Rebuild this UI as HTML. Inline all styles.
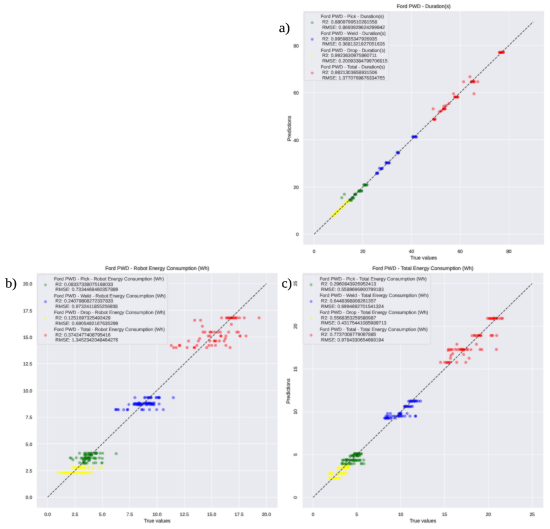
<!DOCTYPE html>
<html lang="en"><head><meta charset="utf-8"><title>Ford PWD predictions vs true values</title>
<style>
html,body{margin:0;padding:0;background:#fff;}
body{width:550px;height:529px;overflow:hidden;}
.wrap{position:relative;width:550px;height:529px;overflow:hidden;}
.fig{position:absolute;left:0;top:0;width:1100px;height:1058px;transform:scale(0.5);transform-origin:0 0;will-change:transform;}
svg{display:block;text-rendering:geometricPrecision;font-family:"Liberation Sans",Arial,sans-serif;fill:#262626;}
text{stroke:#262626;stroke-width:0.11px;stroke-linejoin:round;}
</style></head><body>
<div class="wrap"><div class="fig"><svg width="1100" height="1058" viewBox="0 0 550 529">
<defs><filter id="soft" x="0" y="0" width="550" height="529" filterUnits="userSpaceOnUse"><feGaussianBlur in="SourceGraphic" stdDeviation="0.42" result="b"/><feComposite in="SourceGraphic" in2="b" operator="arithmetic" k1="0" k2="0.5" k3="0.5" k4="0"/></filter></defs>
<rect width="550" height="529" fill="#fff"/>
<g filter="url(#soft)">
<rect x="303.3" y="11.1" width="240.8" height="233.5" fill="#e9e9f0"/>
<path d="M314.10 11.1V244.6M362.79 11.1V244.6M411.48 11.1V244.6M460.17 11.1V244.6M508.86 11.1V244.6M303.3 234.20H544.1M303.3 187.00H544.1M303.3 139.80H544.1M303.3 92.60H544.1M303.3 45.40H544.1" stroke="#fff" stroke-width="0.55" fill="none" opacity="0.8"/>
<text x="314.1" y="252.9" font-size="4.7" text-anchor="middle">0</text>
<text x="362.8" y="252.9" font-size="4.7" text-anchor="middle">20</text>
<text x="411.5" y="252.9" font-size="4.7" text-anchor="middle">40</text>
<text x="460.2" y="252.9" font-size="4.7" text-anchor="middle">60</text>
<text x="508.9" y="252.9" font-size="4.7" text-anchor="middle">80</text>
<text x="298.7" y="236.2" font-size="4.7" text-anchor="end">0</text>
<text x="298.7" y="189.0" font-size="4.7" text-anchor="end">20</text>
<text x="298.7" y="141.8" font-size="4.7" text-anchor="end">40</text>
<text x="298.7" y="94.6" font-size="4.7" text-anchor="end">60</text>
<text x="298.7" y="47.4" font-size="4.7" text-anchor="end">80</text>
<text x="423.7" y="259.3" font-size="5.13" text-anchor="middle">True values</text>
<text x="423.7" y="8.0" font-size="5.13" text-anchor="middle">Ford PWD - Duration(s)</text>
<text transform="translate(291.1 128.4) rotate(-90)" font-size="5.13" text-anchor="middle">Predictions</text>
<g fill="#ffff00" fill-opacity="0.47"><circle cx="347.5" cy="201.4" r="1.5"/><circle cx="348.0" cy="201.3" r="1.5"/><circle cx="347.9" cy="201.5" r="1.5"/><circle cx="347.1" cy="201.6" r="1.5"/><circle cx="347.1" cy="201.6" r="1.5"/><circle cx="347.1" cy="201.4" r="1.5"/><circle cx="347.7" cy="201.8" r="1.5"/><circle cx="347.2" cy="201.4" r="1.5"/><circle cx="346.5" cy="203.1" r="1.5"/><circle cx="346.4" cy="202.7" r="1.5"/><circle cx="347.1" cy="202.5" r="1.5"/><circle cx="346.9" cy="202.7" r="1.5"/><circle cx="345.7" cy="202.6" r="1.5"/><circle cx="342.7" cy="206.4" r="1.5"/><circle cx="342.5" cy="206.2" r="1.5"/><circle cx="343.2" cy="206.1" r="1.5"/><circle cx="343.1" cy="205.9" r="1.5"/><circle cx="342.3" cy="206.0" r="1.5"/><circle cx="343.3" cy="206.2" r="1.5"/><circle cx="341.0" cy="207.6" r="1.5"/><circle cx="341.2" cy="207.4" r="1.5"/><circle cx="341.8" cy="207.6" r="1.5"/><circle cx="340.9" cy="207.5" r="1.5"/><circle cx="341.3" cy="207.7" r="1.5"/><circle cx="341.7" cy="207.4" r="1.5"/><circle cx="342.1" cy="207.3" r="1.5"/><circle cx="341.2" cy="207.7" r="1.5"/><circle cx="337.8" cy="210.5" r="1.5"/><circle cx="337.7" cy="210.6" r="1.5"/><circle cx="338.8" cy="210.5" r="1.5"/><circle cx="339.0" cy="210.4" r="1.5"/><circle cx="338.7" cy="210.6" r="1.5"/><circle cx="338.5" cy="210.5" r="1.5"/><circle cx="337.3" cy="212.3" r="1.5"/><circle cx="336.8" cy="212.1" r="1.5"/><circle cx="336.1" cy="212.1" r="1.5"/><circle cx="337.0" cy="212.3" r="1.5"/><circle cx="337.3" cy="211.9" r="1.5"/><circle cx="336.6" cy="212.1" r="1.5"/><circle cx="336.0" cy="212.0" r="1.5"/><circle cx="336.3" cy="211.8" r="1.5"/><circle cx="334.1" cy="214.4" r="1.5"/><circle cx="334.2" cy="214.0" r="1.5"/><circle cx="334.6" cy="214.4" r="1.5"/><circle cx="334.1" cy="214.2" r="1.5"/><circle cx="334.9" cy="214.4" r="1.5"/><circle cx="335.3" cy="214.4" r="1.5"/><circle cx="332.8" cy="215.5" r="1.5"/><circle cx="333.0" cy="215.8" r="1.5"/><circle cx="333.9" cy="215.4" r="1.5"/><circle cx="332.7" cy="215.4" r="1.5"/><circle cx="332.8" cy="215.6" r="1.5"/><circle cx="333.3" cy="215.5" r="1.5"/><circle cx="332.4" cy="215.6" r="1.5"/><circle cx="333.0" cy="215.6" r="1.5"/><circle cx="332.9" cy="216.3" r="1.5"/><circle cx="332.2" cy="216.3" r="1.5"/><circle cx="332.5" cy="215.9" r="1.5"/></g>
<g fill="#008000" fill-opacity="0.47"><circle cx="351.3" cy="200.3" r="1.5"/><circle cx="351.3" cy="200.3" r="1.5"/><circle cx="350.4" cy="200.0" r="1.5"/><circle cx="349.9" cy="200.2" r="1.5"/><circle cx="349.8" cy="199.8" r="1.5"/><circle cx="350.1" cy="199.9" r="1.5"/><circle cx="352.7" cy="197.7" r="1.5"/><circle cx="352.1" cy="197.8" r="1.5"/><circle cx="352.3" cy="197.9" r="1.5"/><circle cx="352.1" cy="198.2" r="1.5"/><circle cx="353.2" cy="197.8" r="1.5"/><circle cx="352.6" cy="197.9" r="1.5"/><circle cx="352.8" cy="197.8" r="1.5"/><circle cx="353.6" cy="198.3" r="1.5"/><circle cx="355.3" cy="194.4" r="1.5"/><circle cx="354.7" cy="194.2" r="1.5"/><circle cx="355.1" cy="194.3" r="1.5"/><circle cx="356.0" cy="194.2" r="1.5"/><circle cx="354.5" cy="194.7" r="1.5"/><circle cx="355.5" cy="194.2" r="1.5"/><circle cx="355.5" cy="194.1" r="1.5"/><circle cx="355.5" cy="194.7" r="1.5"/><circle cx="360.0" cy="191.1" r="1.5"/><circle cx="358.9" cy="190.9" r="1.5"/><circle cx="358.7" cy="191.2" r="1.5"/><circle cx="359.4" cy="191.2" r="1.5"/><circle cx="359.0" cy="190.8" r="1.5"/><circle cx="359.9" cy="191.3" r="1.5"/><circle cx="359.9" cy="191.2" r="1.5"/><circle cx="359.9" cy="191.1" r="1.5"/><circle cx="361.5" cy="191.0" r="1.5"/><circle cx="361.7" cy="190.7" r="1.5"/><circle cx="361.2" cy="190.9" r="1.5"/><circle cx="361.6" cy="191.1" r="1.5"/><circle cx="365.2" cy="184.9" r="1.5"/><circle cx="365.2" cy="185.2" r="1.5"/><circle cx="365.2" cy="184.8" r="1.5"/><circle cx="363.9" cy="184.7" r="1.5"/><circle cx="363.9" cy="184.7" r="1.5"/><circle cx="364.6" cy="185.1" r="1.5"/><circle cx="365.0" cy="184.9" r="1.5"/><circle cx="364.7" cy="185.1" r="1.5"/><circle cx="365.5" cy="185.0" r="1.5"/><circle cx="366.9" cy="185.1" r="1.5"/><circle cx="366.7" cy="184.9" r="1.5"/><circle cx="365.6" cy="185.1" r="1.5"/><circle cx="365.9" cy="185.1" r="1.5"/><circle cx="367.0" cy="184.8" r="1.5"/><circle cx="341.8" cy="197.8" r="1.5"/><circle cx="344.4" cy="194.3" r="1.5"/></g>
<g fill="#0000ff" fill-opacity="0.47"><circle cx="377.0" cy="173.4" r="1.5"/><circle cx="377.4" cy="173.0" r="1.5"/><circle cx="376.7" cy="173.0" r="1.5"/><circle cx="377.6" cy="173.4" r="1.5"/><circle cx="376.7" cy="173.4" r="1.5"/><circle cx="377.7" cy="173.3" r="1.5"/><circle cx="376.9" cy="173.2" r="1.5"/><circle cx="376.7" cy="173.0" r="1.5"/><circle cx="382.2" cy="168.6" r="1.5"/><circle cx="381.6" cy="168.7" r="1.5"/><circle cx="381.5" cy="168.7" r="1.5"/><circle cx="382.0" cy="168.4" r="1.5"/><circle cx="381.3" cy="168.4" r="1.5"/><circle cx="381.3" cy="168.5" r="1.5"/><circle cx="381.3" cy="168.5" r="1.5"/><circle cx="381.2" cy="168.7" r="1.5"/><circle cx="379.4" cy="168.2" r="1.5"/><circle cx="386.6" cy="163.0" r="1.5"/><circle cx="386.4" cy="163.0" r="1.5"/><circle cx="386.5" cy="162.8" r="1.5"/><circle cx="386.5" cy="162.6" r="1.5"/><circle cx="386.4" cy="162.6" r="1.5"/><circle cx="385.9" cy="162.9" r="1.5"/><circle cx="388.6" cy="162.9" r="1.5"/><circle cx="389.3" cy="162.9" r="1.5"/><circle cx="388.8" cy="162.9" r="1.5"/><circle cx="389.1" cy="163.0" r="1.5"/><circle cx="388.5" cy="162.9" r="1.5"/><circle cx="388.7" cy="162.8" r="1.5"/><circle cx="398.4" cy="152.8" r="1.5"/><circle cx="398.2" cy="152.9" r="1.5"/><circle cx="398.6" cy="152.8" r="1.5"/><circle cx="398.2" cy="152.8" r="1.5"/><circle cx="398.1" cy="152.9" r="1.5"/><circle cx="398.0" cy="152.8" r="1.5"/><circle cx="398.1" cy="153.0" r="1.5"/><circle cx="398.3" cy="153.0" r="1.5"/><circle cx="397.5" cy="152.3" r="1.5"/><circle cx="397.1" cy="152.6" r="1.5"/><circle cx="413.8" cy="136.6" r="1.5"/><circle cx="412.9" cy="136.8" r="1.5"/><circle cx="412.9" cy="136.7" r="1.5"/><circle cx="412.9" cy="136.9" r="1.5"/><circle cx="413.7" cy="137.0" r="1.5"/><circle cx="413.0" cy="136.9" r="1.5"/><circle cx="415.9" cy="136.6" r="1.5"/><circle cx="416.2" cy="137.0" r="1.5"/><circle cx="415.4" cy="137.0" r="1.5"/><circle cx="415.6" cy="136.8" r="1.5"/><circle cx="416.3" cy="137.0" r="1.5"/><circle cx="415.3" cy="136.8" r="1.5"/></g>
<g fill="#ff0000" fill-opacity="0.47"><circle cx="433.2" cy="108.9" r="1.5"/><circle cx="439.3" cy="111.9" r="1.5"/><circle cx="441.6" cy="110.7" r="1.5"/><circle cx="443.8" cy="106.2" r="1.5"/><circle cx="449.0" cy="103.5" r="1.5"/><circle cx="453.6" cy="93.7" r="1.5"/><circle cx="463.6" cy="81.7" r="1.5"/><circle cx="469.9" cy="76.7" r="1.5"/><circle cx="477.8" cy="81.7" r="1.5"/><circle cx="474.0" cy="93.7" r="1.5"/><circle cx="440.5" cy="111.2" r="1.5"/><circle cx="446.0" cy="105.5" r="1.5"/><circle cx="434.1" cy="119.4" r="1.5"/><circle cx="433.8" cy="119.3" r="1.5"/><circle cx="434.3" cy="119.3" r="1.5"/><circle cx="434.2" cy="119.4" r="1.5"/><circle cx="433.6" cy="119.3" r="1.5"/><circle cx="434.2" cy="119.4" r="1.5"/><circle cx="433.7" cy="119.5" r="1.5"/><circle cx="434.4" cy="119.5" r="1.5"/><circle cx="434.5" cy="119.3" r="1.5"/><circle cx="434.4" cy="119.5" r="1.5"/><circle cx="434.7" cy="119.3" r="1.5"/><circle cx="434.8" cy="119.5" r="1.5"/><circle cx="435.2" cy="119.3" r="1.5"/><circle cx="443.4" cy="109.0" r="1.5"/><circle cx="443.9" cy="109.0" r="1.5"/><circle cx="443.4" cy="108.8" r="1.5"/><circle cx="444.0" cy="108.9" r="1.5"/><circle cx="443.4" cy="109.0" r="1.5"/><circle cx="443.9" cy="109.0" r="1.5"/><circle cx="444.6" cy="109.0" r="1.5"/><circle cx="444.6" cy="109.0" r="1.5"/><circle cx="445.0" cy="108.9" r="1.5"/><circle cx="445.1" cy="109.0" r="1.5"/><circle cx="444.8" cy="108.8" r="1.5"/><circle cx="445.0" cy="108.8" r="1.5"/><circle cx="454.8" cy="97.0" r="1.5"/><circle cx="454.8" cy="97.0" r="1.5"/><circle cx="455.0" cy="97.0" r="1.5"/><circle cx="455.5" cy="97.0" r="1.5"/><circle cx="455.2" cy="97.0" r="1.5"/><circle cx="455.0" cy="97.0" r="1.5"/><circle cx="457.2" cy="97.0" r="1.5"/><circle cx="457.6" cy="97.1" r="1.5"/><circle cx="457.1" cy="97.1" r="1.5"/><circle cx="457.8" cy="97.0" r="1.5"/><circle cx="457.7" cy="97.1" r="1.5"/><circle cx="457.4" cy="97.2" r="1.5"/><circle cx="471.6" cy="81.7" r="1.5"/><circle cx="471.9" cy="81.8" r="1.5"/><circle cx="471.5" cy="81.8" r="1.5"/><circle cx="471.9" cy="81.7" r="1.5"/><circle cx="471.6" cy="81.7" r="1.5"/><circle cx="471.3" cy="81.6" r="1.5"/><circle cx="473.6" cy="81.8" r="1.5"/><circle cx="473.8" cy="81.6" r="1.5"/><circle cx="473.6" cy="81.8" r="1.5"/><circle cx="474.4" cy="81.8" r="1.5"/><circle cx="473.8" cy="81.6" r="1.5"/><circle cx="473.8" cy="81.7" r="1.5"/><circle cx="499.6" cy="52.4" r="1.5"/><circle cx="499.7" cy="52.5" r="1.5"/><circle cx="500.4" cy="52.4" r="1.5"/><circle cx="499.6" cy="52.5" r="1.5"/><circle cx="499.7" cy="52.4" r="1.5"/><circle cx="499.4" cy="52.4" r="1.5"/><circle cx="501.7" cy="52.4" r="1.5"/><circle cx="501.4" cy="52.4" r="1.5"/><circle cx="501.2" cy="52.3" r="1.5"/><circle cx="501.3" cy="52.4" r="1.5"/><circle cx="501.2" cy="52.3" r="1.5"/><circle cx="501.5" cy="52.3" r="1.5"/><circle cx="503.1" cy="52.4" r="1.5"/><circle cx="503.3" cy="52.4" r="1.5"/><circle cx="503.2" cy="52.5" r="1.5"/><circle cx="502.9" cy="52.3" r="1.5"/><circle cx="503.5" cy="52.3" r="1.5"/></g>
<path d="M314.10 234.20L533.20 21.80" stroke="#202020" stroke-width="0.8" stroke-dasharray="2.4 1.1" fill="none"/>
<rect x="304.1" y="12.2" width="84.7" height="68.3" rx="1" fill="#ebebf2" fill-opacity="0.85" stroke="#cccccc" stroke-opacity="0.8" stroke-width="0.45"/>
<circle cx="312.2" cy="22.6" r="1.4" fill="#008000" fill-opacity="0.4"/>
<text font-size="4.77" x="320.7" y="18.2">Ford PWD - Pick - Duration(s)<tspan x="322.1" dy="5.32">R2: 0.8809799510281558</tspan><tspan x="322.1" dy="5.32">RMSE: 0.8693929624299942</tspan></text>
<circle cx="312.2" cy="39.3" r="1.4" fill="#0000ff" fill-opacity="0.4"/>
<text font-size="4.77" x="320.7" y="35.0">Ford PWD - Weld - Duration(s)<tspan x="322.1" dy="5.32">R2: 0.9959835347926935</tspan><tspan x="322.1" dy="5.32">RMSE: 0.3681321927051626</tspan></text>
<circle cx="312.2" cy="56.1" r="1.4" fill="#ffff00" fill-opacity="0.4"/>
<text font-size="4.77" x="320.7" y="51.9">Ford PWD - Drop - Duration(s)<tspan x="322.1" dy="5.32">R2: 0.9923630975860711</tspan><tspan x="322.1" dy="5.32">RMSE: 0.20093384799706915</tspan></text>
<circle cx="312.2" cy="73.0" r="1.4" fill="#ff0000" fill-opacity="0.4"/>
<text font-size="4.77" x="320.7" y="68.7">Ford PWD - Total - Duration(s)<tspan x="322.1" dy="5.32">R2: 0.9821303658931506</tspan><tspan x="322.1" dy="5.32">RMSE: 1.3770769876334765</tspan></text>
<rect x="36.8" y="273.1" width="240.7" height="234.6" fill="#e9e9f0"/>
<path d="M47.60 273.1V507.7M74.95 273.1V507.7M102.30 273.1V507.7M129.65 273.1V507.7M157.00 273.1V507.7M184.35 273.1V507.7M211.70 273.1V507.7M239.05 273.1V507.7M266.40 273.1V507.7M36.8 497.20H277.5M36.8 470.50H277.5M36.8 443.80H277.5M36.8 417.10H277.5M36.8 390.40H277.5M36.8 363.70H277.5M36.8 337.00H277.5M36.8 310.30H277.5M36.8 283.60H277.5" stroke="#fff" stroke-width="0.55" fill="none" opacity="0.8"/>
<text x="47.6" y="516.0" font-size="4.7" text-anchor="middle">0.0</text>
<text x="75.0" y="516.0" font-size="4.7" text-anchor="middle">2.5</text>
<text x="102.3" y="516.0" font-size="4.7" text-anchor="middle">5.0</text>
<text x="129.7" y="516.0" font-size="4.7" text-anchor="middle">7.5</text>
<text x="157.0" y="516.0" font-size="4.7" text-anchor="middle">10.0</text>
<text x="184.3" y="516.0" font-size="4.7" text-anchor="middle">12.5</text>
<text x="211.7" y="516.0" font-size="4.7" text-anchor="middle">15.0</text>
<text x="239.0" y="516.0" font-size="4.7" text-anchor="middle">17.5</text>
<text x="266.4" y="516.0" font-size="4.7" text-anchor="middle">20.0</text>
<text x="32.2" y="499.2" font-size="4.7" text-anchor="end">0.0</text>
<text x="32.2" y="472.5" font-size="4.7" text-anchor="end">2.5</text>
<text x="32.2" y="445.8" font-size="4.7" text-anchor="end">5.0</text>
<text x="32.2" y="419.1" font-size="4.7" text-anchor="end">7.5</text>
<text x="32.2" y="392.4" font-size="4.7" text-anchor="end">10.0</text>
<text x="32.2" y="365.7" font-size="4.7" text-anchor="end">12.5</text>
<text x="32.2" y="339.0" font-size="4.7" text-anchor="end">15.0</text>
<text x="32.2" y="312.3" font-size="4.7" text-anchor="end">17.5</text>
<text x="32.2" y="285.6" font-size="4.7" text-anchor="end">20.0</text>
<text x="157.2" y="522.4" font-size="5.13" text-anchor="middle">True values</text>
<text x="157.2" y="270.0" font-size="5.13" text-anchor="middle">Ford PWD - Robot Energy Consumption (Wh)</text>
<g fill="#ffff00" fill-opacity="0.47"><circle cx="77.8" cy="467.6" r="1.5"/><circle cx="72.4" cy="467.6" r="1.5"/><circle cx="79.1" cy="467.6" r="1.5"/><circle cx="77.9" cy="467.6" r="1.5"/><circle cx="73.1" cy="467.6" r="1.5"/><circle cx="76.0" cy="467.6" r="1.5"/><circle cx="82.9" cy="467.7" r="1.5"/><circle cx="80.4" cy="467.8" r="1.5"/><circle cx="81.5" cy="467.7" r="1.5"/><circle cx="76.5" cy="467.4" r="1.5"/><circle cx="75.5" cy="467.5" r="1.5"/><circle cx="75.2" cy="467.7" r="1.5"/><circle cx="80.1" cy="467.7" r="1.5"/><circle cx="80.9" cy="467.7" r="1.5"/><circle cx="79.4" cy="467.4" r="1.5"/><circle cx="82.8" cy="467.7" r="1.5"/><circle cx="79.5" cy="467.6" r="1.5"/><circle cx="81.3" cy="467.4" r="1.5"/><circle cx="82.1" cy="467.5" r="1.5"/><circle cx="74.8" cy="467.5" r="1.5"/><circle cx="82.0" cy="467.5" r="1.5"/><circle cx="82.1" cy="467.8" r="1.5"/><circle cx="79.4" cy="467.6" r="1.5"/><circle cx="79.3" cy="467.7" r="1.5"/><circle cx="82.4" cy="467.6" r="1.5"/><circle cx="81.1" cy="467.4" r="1.5"/><circle cx="75.6" cy="467.5" r="1.5"/><circle cx="82.2" cy="467.5" r="1.5"/><circle cx="80.2" cy="467.4" r="1.5"/><circle cx="74.7" cy="467.5" r="1.5"/><circle cx="81.4" cy="467.7" r="1.5"/><circle cx="81.4" cy="467.5" r="1.5"/><circle cx="79.7" cy="467.6" r="1.5"/><circle cx="79.1" cy="467.4" r="1.5"/><circle cx="83.8" cy="467.5" r="1.5"/><circle cx="84.8" cy="467.8" r="1.5"/><circle cx="85.3" cy="467.6" r="1.5"/><circle cx="99.4" cy="467.6" r="1.5"/><circle cx="92.9" cy="467.6" r="1.5"/><circle cx="88.7" cy="467.6" r="1.5"/><circle cx="88.7" cy="467.6" r="1.5"/><circle cx="102.6" cy="467.6" r="1.5"/><circle cx="62.3" cy="472.8" r="1.5"/><circle cx="84.7" cy="472.7" r="1.5"/><circle cx="81.0" cy="472.8" r="1.5"/><circle cx="82.9" cy="472.9" r="1.5"/><circle cx="64.8" cy="473.0" r="1.5"/><circle cx="71.8" cy="472.6" r="1.5"/><circle cx="58.5" cy="472.8" r="1.5"/><circle cx="70.8" cy="472.7" r="1.5"/><circle cx="62.3" cy="472.7" r="1.5"/><circle cx="67.1" cy="472.9" r="1.5"/><circle cx="58.4" cy="472.9" r="1.5"/><circle cx="81.6" cy="472.6" r="1.5"/><circle cx="84.0" cy="472.9" r="1.5"/><circle cx="83.3" cy="472.7" r="1.5"/><circle cx="68.7" cy="472.8" r="1.5"/><circle cx="86.0" cy="472.8" r="1.5"/><circle cx="68.4" cy="472.8" r="1.5"/><circle cx="66.0" cy="472.6" r="1.5"/><circle cx="61.2" cy="472.9" r="1.5"/><circle cx="66.3" cy="473.0" r="1.5"/><circle cx="65.3" cy="472.7" r="1.5"/><circle cx="72.5" cy="472.7" r="1.5"/><circle cx="68.7" cy="473.0" r="1.5"/><circle cx="82.8" cy="472.9" r="1.5"/><circle cx="75.8" cy="473.0" r="1.5"/><circle cx="84.4" cy="472.8" r="1.5"/><circle cx="78.3" cy="472.6" r="1.5"/><circle cx="78.6" cy="472.8" r="1.5"/><circle cx="79.2" cy="472.9" r="1.5"/><circle cx="66.3" cy="472.6" r="1.5"/><circle cx="84.0" cy="472.7" r="1.5"/><circle cx="71.4" cy="472.7" r="1.5"/><circle cx="66.6" cy="472.9" r="1.5"/><circle cx="85.3" cy="472.7" r="1.5"/><circle cx="76.5" cy="472.7" r="1.5"/><circle cx="73.8" cy="472.8" r="1.5"/><circle cx="63.0" cy="472.7" r="1.5"/><circle cx="64.1" cy="473.0" r="1.5"/><circle cx="72.1" cy="472.7" r="1.5"/><circle cx="83.4" cy="473.0" r="1.5"/><circle cx="70.8" cy="472.7" r="1.5"/><circle cx="63.7" cy="472.6" r="1.5"/><circle cx="67.8" cy="472.6" r="1.5"/><circle cx="65.0" cy="472.7" r="1.5"/><circle cx="74.1" cy="473.0" r="1.5"/><circle cx="91.6" cy="472.8" r="1.5"/><circle cx="89.1" cy="472.8" r="1.5"/><circle cx="88.8" cy="472.8" r="1.5"/><circle cx="86.5" cy="472.8" r="1.5"/></g>
<g fill="#008000" fill-opacity="0.47"><circle cx="96.6" cy="453.1" r="1.5"/><circle cx="90.5" cy="453.4" r="1.5"/><circle cx="95.2" cy="453.1" r="1.5"/><circle cx="87.5" cy="453.1" r="1.5"/><circle cx="89.2" cy="453.3" r="1.5"/><circle cx="96.4" cy="453.5" r="1.5"/><circle cx="95.3" cy="453.0" r="1.5"/><circle cx="84.4" cy="453.4" r="1.5"/><circle cx="95.6" cy="453.3" r="1.5"/><circle cx="91.6" cy="453.0" r="1.5"/><circle cx="89.1" cy="453.6" r="1.5"/><circle cx="94.7" cy="453.5" r="1.5"/><circle cx="96.6" cy="453.1" r="1.5"/><circle cx="85.4" cy="453.1" r="1.5"/><circle cx="90.8" cy="453.4" r="1.5"/><circle cx="96.2" cy="453.4" r="1.5"/><circle cx="79.5" cy="453.3" r="1.5"/><circle cx="100.0" cy="453.3" r="1.5"/><circle cx="102.6" cy="453.3" r="1.5"/><circle cx="116.2" cy="453.6" r="1.5"/><circle cx="91.8" cy="455.1" r="1.5"/><circle cx="89.5" cy="454.9" r="1.5"/><circle cx="84.5" cy="455.1" r="1.5"/><circle cx="86.8" cy="455.2" r="1.5"/><circle cx="91.7" cy="454.8" r="1.5"/><circle cx="85.5" cy="454.8" r="1.5"/><circle cx="91.6" cy="455.0" r="1.5"/><circle cx="85.3" cy="454.6" r="1.5"/><circle cx="90.3" cy="454.9" r="1.5"/><circle cx="88.7" cy="454.7" r="1.5"/><circle cx="76.3" cy="457.7" r="1.5"/><circle cx="71.3" cy="458.1" r="1.5"/><circle cx="82.3" cy="458.2" r="1.5"/><circle cx="81.1" cy="458.1" r="1.5"/><circle cx="70.2" cy="457.9" r="1.5"/><circle cx="82.3" cy="458.3" r="1.5"/><circle cx="85.5" cy="457.8" r="1.5"/><circle cx="87.0" cy="458.2" r="1.5"/><circle cx="86.4" cy="458.0" r="1.5"/><circle cx="88.3" cy="458.4" r="1.5"/><circle cx="84.8" cy="457.8" r="1.5"/><circle cx="85.7" cy="458.1" r="1.5"/><circle cx="88.5" cy="457.9" r="1.5"/><circle cx="89.4" cy="458.2" r="1.5"/><circle cx="87.0" cy="457.9" r="1.5"/><circle cx="90.8" cy="458.0" r="1.5"/><circle cx="89.6" cy="457.9" r="1.5"/><circle cx="84.8" cy="458.3" r="1.5"/><circle cx="96.0" cy="458.4" r="1.5"/><circle cx="99.4" cy="457.9" r="1.5"/><circle cx="94.8" cy="458.1" r="1.5"/><circle cx="102.3" cy="458.4" r="1.5"/><circle cx="93.5" cy="458.0" r="1.5"/><circle cx="94.6" cy="458.4" r="1.5"/><circle cx="84.0" cy="459.9" r="1.5"/><circle cx="83.4" cy="460.1" r="1.5"/><circle cx="89.3" cy="460.4" r="1.5"/><circle cx="88.1" cy="460.5" r="1.5"/><circle cx="89.5" cy="460.1" r="1.5"/><circle cx="84.3" cy="460.5" r="1.5"/><circle cx="73.0" cy="459.8" r="1.5"/><circle cx="95.9" cy="462.8" r="1.5"/><circle cx="93.6" cy="463.0" r="1.5"/><circle cx="85.5" cy="463.0" r="1.5"/><circle cx="79.7" cy="462.8" r="1.5"/><circle cx="82.8" cy="463.0" r="1.5"/><circle cx="101.8" cy="462.9" r="1.5"/><circle cx="102.0" cy="462.9" r="1.5"/><circle cx="85.0" cy="463.3" r="1.5"/><circle cx="87.1" cy="463.1" r="1.5"/><circle cx="83.2" cy="463.1" r="1.5"/><circle cx="84.9" cy="463.4" r="1.5"/></g>
<g fill="#0000ff" fill-opacity="0.47"><circle cx="134.9" cy="397.6" r="1.5"/><circle cx="173.3" cy="397.6" r="1.5"/><circle cx="147.5" cy="397.5" r="1.5"/><circle cx="158.4" cy="397.4" r="1.5"/><circle cx="150.9" cy="397.7" r="1.5"/><circle cx="156.4" cy="397.4" r="1.5"/><circle cx="145.0" cy="397.4" r="1.5"/><circle cx="158.8" cy="397.5" r="1.5"/><circle cx="156.1" cy="397.8" r="1.5"/><circle cx="149.8" cy="397.5" r="1.5"/><circle cx="159.3" cy="397.6" r="1.5"/><circle cx="148.6" cy="397.7" r="1.5"/><circle cx="149.4" cy="397.5" r="1.5"/><circle cx="144.6" cy="397.7" r="1.5"/><circle cx="158.7" cy="397.7" r="1.5"/><circle cx="159.1" cy="397.4" r="1.5"/><circle cx="148.1" cy="397.6" r="1.5"/><circle cx="159.3" cy="397.8" r="1.5"/><circle cx="150.5" cy="397.5" r="1.5"/><circle cx="151.2" cy="397.6" r="1.5"/><circle cx="128.7" cy="404.5" r="1.5"/><circle cx="159.1" cy="404.0" r="1.5"/><circle cx="153.0" cy="403.1" r="1.5"/><circle cx="150.4" cy="403.6" r="1.5"/><circle cx="150.8" cy="403.7" r="1.5"/><circle cx="146.3" cy="403.2" r="1.5"/><circle cx="140.3" cy="403.3" r="1.5"/><circle cx="149.9" cy="403.0" r="1.5"/><circle cx="137.7" cy="403.7" r="1.5"/><circle cx="138.8" cy="403.0" r="1.5"/><circle cx="134.3" cy="403.5" r="1.5"/><circle cx="140.4" cy="403.9" r="1.5"/><circle cx="152.1" cy="403.9" r="1.5"/><circle cx="139.1" cy="403.0" r="1.5"/><circle cx="135.6" cy="403.4" r="1.5"/><circle cx="148.4" cy="403.3" r="1.5"/><circle cx="138.5" cy="403.3" r="1.5"/><circle cx="146.6" cy="403.6" r="1.5"/><circle cx="149.2" cy="403.7" r="1.5"/><circle cx="147.5" cy="403.0" r="1.5"/><circle cx="151.2" cy="403.2" r="1.5"/><circle cx="145.4" cy="403.3" r="1.5"/><circle cx="149.0" cy="403.1" r="1.5"/><circle cx="138.8" cy="403.1" r="1.5"/><circle cx="136.8" cy="403.8" r="1.5"/><circle cx="145.7" cy="403.2" r="1.5"/><circle cx="141.9" cy="403.9" r="1.5"/><circle cx="144.2" cy="403.1" r="1.5"/><circle cx="150.5" cy="403.6" r="1.5"/><circle cx="154.3" cy="403.0" r="1.5"/><circle cx="143.5" cy="403.7" r="1.5"/><circle cx="151.2" cy="403.8" r="1.5"/><circle cx="134.4" cy="404.4" r="1.5"/><circle cx="136.1" cy="404.3" r="1.5"/><circle cx="153.9" cy="404.7" r="1.5"/><circle cx="153.0" cy="404.5" r="1.5"/><circle cx="151.7" cy="404.5" r="1.5"/><circle cx="139.0" cy="404.9" r="1.5"/><circle cx="153.4" cy="404.2" r="1.5"/><circle cx="146.1" cy="404.7" r="1.5"/><circle cx="138.1" cy="404.5" r="1.5"/><circle cx="136.6" cy="404.3" r="1.5"/><circle cx="138.9" cy="404.7" r="1.5"/><circle cx="147.2" cy="404.3" r="1.5"/><circle cx="133.8" cy="404.4" r="1.5"/><circle cx="147.8" cy="404.3" r="1.5"/><circle cx="140.1" cy="404.3" r="1.5"/><circle cx="150.2" cy="404.6" r="1.5"/><circle cx="134.9" cy="404.2" r="1.5"/><circle cx="141.9" cy="404.7" r="1.5"/><circle cx="147.0" cy="404.2" r="1.5"/><circle cx="137.0" cy="404.8" r="1.5"/><circle cx="142.2" cy="404.4" r="1.5"/><circle cx="140.0" cy="405.1" r="1.5"/><circle cx="115.7" cy="409.6" r="1.5"/><circle cx="116.0" cy="409.6" r="1.5"/><circle cx="118.4" cy="409.8" r="1.5"/><circle cx="116.0" cy="409.5" r="1.5"/><circle cx="117.8" cy="409.5" r="1.5"/><circle cx="123.7" cy="409.8" r="1.5"/><circle cx="127.5" cy="409.7" r="1.5"/><circle cx="127.3" cy="409.8" r="1.5"/><circle cx="127.8" cy="409.5" r="1.5"/><circle cx="141.8" cy="409.6" r="1.5"/><circle cx="143.5" cy="409.8" r="1.5"/><circle cx="142.0" cy="409.6" r="1.5"/><circle cx="149.5" cy="409.6" r="1.5"/><circle cx="156.7" cy="409.6" r="1.5"/><circle cx="163.3" cy="409.6" r="1.5"/></g>
<g fill="#ff0000" fill-opacity="0.47"><circle cx="221.6" cy="317.9" r="1.5"/><circle cx="226.4" cy="317.9" r="1.5"/><circle cx="228.1" cy="317.9" r="1.5"/><circle cx="229.9" cy="317.9" r="1.5"/><circle cx="231.6" cy="317.9" r="1.5"/><circle cx="233.4" cy="317.9" r="1.5"/><circle cx="235.1" cy="317.9" r="1.5"/><circle cx="236.8" cy="317.9" r="1.5"/><circle cx="239.5" cy="317.9" r="1.5"/><circle cx="244.3" cy="317.9" r="1.5"/><circle cx="259.1" cy="317.9" r="1.5"/><circle cx="227.0" cy="317.9" r="1.5"/><circle cx="229.0" cy="317.9" r="1.5"/><circle cx="230.5" cy="317.9" r="1.5"/><circle cx="232.0" cy="317.9" r="1.5"/><circle cx="234.0" cy="317.9" r="1.5"/><circle cx="236.0" cy="317.9" r="1.5"/><circle cx="231.0" cy="317.9" r="1.5"/><circle cx="232.5" cy="317.9" r="1.5"/><circle cx="194.7" cy="320.3" r="1.5"/><circle cx="200.6" cy="320.3" r="1.5"/><circle cx="202.4" cy="326.2" r="1.5"/><circle cx="231.4" cy="324.4" r="1.5"/><circle cx="203.0" cy="332.1" r="1.5"/><circle cx="205.0" cy="332.1" r="1.5"/><circle cx="210.0" cy="332.1" r="1.5"/><circle cx="211.8" cy="332.1" r="1.5"/><circle cx="214.6" cy="332.1" r="1.5"/><circle cx="217.6" cy="332.1" r="1.5"/><circle cx="220.3" cy="332.1" r="1.5"/><circle cx="228.6" cy="332.1" r="1.5"/><circle cx="236.8" cy="332.1" r="1.5"/><circle cx="238.4" cy="332.1" r="1.5"/><circle cx="210.5" cy="332.1" r="1.5"/><circle cx="208.3" cy="336.0" r="1.5"/><circle cx="210.0" cy="336.0" r="1.5"/><circle cx="220.9" cy="336.0" r="1.5"/><circle cx="220.9" cy="336.0" r="1.5"/><circle cx="220.9" cy="336.0" r="1.5"/><circle cx="225.9" cy="336.0" r="1.5"/><circle cx="240.1" cy="336.0" r="1.5"/><circle cx="240.1" cy="336.0" r="1.5"/><circle cx="246.0" cy="336.0" r="1.5"/><circle cx="199.7" cy="338.6" r="1.5"/><circle cx="225.3" cy="338.6" r="1.5"/><circle cx="188.6" cy="341.0" r="1.5"/><circle cx="198.4" cy="341.0" r="1.5"/><circle cx="210.0" cy="341.0" r="1.5"/><circle cx="214.4" cy="341.0" r="1.5"/><circle cx="214.4" cy="341.0" r="1.5"/><circle cx="214.9" cy="341.0" r="1.5"/><circle cx="216.1" cy="341.0" r="1.5"/><circle cx="219.4" cy="341.0" r="1.5"/><circle cx="224.2" cy="341.0" r="1.5"/><circle cx="171.2" cy="345.4" r="1.5"/><circle cx="179.5" cy="345.4" r="1.5"/><circle cx="179.5" cy="345.4" r="1.5"/><circle cx="179.8" cy="345.4" r="1.5"/><circle cx="196.9" cy="345.4" r="1.5"/><circle cx="208.9" cy="345.4" r="1.5"/><circle cx="211.8" cy="345.4" r="1.5"/><circle cx="215.5" cy="345.4" r="1.5"/><circle cx="225.9" cy="345.4" r="1.5"/><circle cx="173.6" cy="347.6" r="1.5"/><circle cx="176.2" cy="347.6" r="1.5"/><circle cx="187.1" cy="347.6" r="1.5"/><circle cx="194.3" cy="347.6" r="1.5"/><circle cx="194.3" cy="347.6" r="1.5"/><circle cx="194.6" cy="347.6" r="1.5"/><circle cx="206.7" cy="347.6" r="1.5"/><circle cx="230.1" cy="347.6" r="1.5"/></g>
<path d="M47.60 497.20L266.40 283.60" stroke="#202020" stroke-width="0.8" stroke-dasharray="2.4 1.1" fill="none"/>
<rect x="37.4" y="274.6" width="130.2" height="69.6" rx="1" fill="#ebebf2" fill-opacity="0.85" stroke="#cccccc" stroke-opacity="0.8" stroke-width="0.45"/>
<circle cx="45.5" cy="284.9" r="1.4" fill="#008000" fill-opacity="0.4"/>
<text font-size="4.77" x="54.0" y="280.6">Ford PWD - Pick - Robot Energy Consumption (Wh)<tspan x="55.4" dy="5.32">R2: 0.08337338075168033</tspan><tspan x="55.4" dy="5.32">RMSE: 0.7334468460357889</tspan></text>
<circle cx="45.5" cy="301.7" r="1.4" fill="#0000ff" fill-opacity="0.4"/>
<text font-size="4.77" x="54.0" y="297.4">Ford PWD - Weld - Robot Energy Consumption (Wh)<tspan x="55.4" dy="5.32">R2: 0.24079808272337833</tspan><tspan x="55.4" dy="5.32">RMSE: 0.9732411855256938</tspan></text>
<circle cx="45.5" cy="318.5" r="1.4" fill="#ffff00" fill-opacity="0.4"/>
<text font-size="4.77" x="54.0" y="314.2">Ford PWD - Drop - Robot Energy Consumption (Wh)<tspan x="55.4" dy="5.32">R2: 0.1251697325492429</tspan><tspan x="55.4" dy="5.32">RMSE: 0.6905492167635299</tspan></text>
<circle cx="45.5" cy="335.3" r="1.4" fill="#ff0000" fill-opacity="0.4"/>
<text font-size="4.77" x="54.0" y="331.0">Ford PWD - Total - Robot Energy Consumption (Wh)<tspan x="55.4" dy="5.32">R2: 0.3742477408795416</tspan><tspan x="55.4" dy="5.32">RMSE: 1.3452342048464276</tspan></text>
<rect x="302.6" y="272.9" width="240.7" height="234.8" fill="#e9e9f0"/>
<path d="M313.00 272.9V507.7M356.84 272.9V507.7M400.68 272.9V507.7M444.52 272.9V507.7M488.36 272.9V507.7M532.20 272.9V507.7M302.6 497.40H543.2M302.6 454.62H543.2M302.6 411.84H543.2M302.6 369.06H543.2M302.6 326.28H543.2M302.6 283.50H543.2" stroke="#fff" stroke-width="0.55" fill="none" opacity="0.8"/>
<text x="313.0" y="516.0" font-size="4.7" text-anchor="middle">0</text>
<text x="356.8" y="516.0" font-size="4.7" text-anchor="middle">5</text>
<text x="400.7" y="516.0" font-size="4.7" text-anchor="middle">10</text>
<text x="444.5" y="516.0" font-size="4.7" text-anchor="middle">15</text>
<text x="488.4" y="516.0" font-size="4.7" text-anchor="middle">20</text>
<text x="532.2" y="516.0" font-size="4.7" text-anchor="middle">25</text>
<text transform="translate(296.9 497.4) rotate(-90)" font-size="4.7" text-anchor="middle">0</text>
<text transform="translate(296.9 454.6) rotate(-90)" font-size="4.7" text-anchor="middle">5</text>
<text transform="translate(296.9 411.8) rotate(-90)" font-size="4.7" text-anchor="middle">10</text>
<text transform="translate(296.9 369.1) rotate(-90)" font-size="4.7" text-anchor="middle">15</text>
<text transform="translate(296.9 326.3) rotate(-90)" font-size="4.7" text-anchor="middle">20</text>
<text transform="translate(296.9 283.5) rotate(-90)" font-size="4.7" text-anchor="middle">25</text>
<text x="422.9" y="522.4" font-size="5.13" text-anchor="middle">True values</text>
<text x="422.9" y="269.8" font-size="5.13" text-anchor="middle">Ford PWD - Total Energy Consumption (Wh)</text>
<text transform="translate(289.8 391.1) rotate(-90)" font-size="5.13" text-anchor="middle">Predictions</text>
<g fill="#ffff00" fill-opacity="0.47"><circle cx="345.2" cy="465.8" r="1.5"/><circle cx="343.9" cy="465.7" r="1.5"/><circle cx="346.1" cy="466.0" r="1.5"/><circle cx="343.7" cy="465.8" r="1.5"/><circle cx="347.8" cy="466.0" r="1.5"/><circle cx="344.2" cy="465.7" r="1.5"/><circle cx="348.7" cy="466.0" r="1.5"/><circle cx="345.9" cy="465.6" r="1.5"/><circle cx="348.6" cy="465.8" r="1.5"/><circle cx="348.4" cy="465.8" r="1.5"/><circle cx="348.6" cy="467.8" r="1.5"/><circle cx="348.1" cy="467.8" r="1.5"/><circle cx="342.9" cy="468.2" r="1.5"/><circle cx="348.7" cy="467.8" r="1.5"/><circle cx="340.4" cy="467.9" r="1.5"/><circle cx="344.4" cy="467.9" r="1.5"/><circle cx="339.1" cy="467.8" r="1.5"/><circle cx="347.3" cy="468.2" r="1.5"/><circle cx="338.0" cy="468.0" r="1.5"/><circle cx="347.7" cy="467.7" r="1.5"/><circle cx="348.8" cy="467.8" r="1.5"/><circle cx="345.6" cy="468.0" r="1.5"/><circle cx="345.9" cy="467.9" r="1.5"/><circle cx="343.1" cy="468.0" r="1.5"/><circle cx="343.2" cy="468.1" r="1.5"/><circle cx="343.5" cy="468.0" r="1.5"/><circle cx="337.7" cy="468.1" r="1.5"/><circle cx="344.1" cy="467.8" r="1.5"/><circle cx="347.8" cy="468.2" r="1.5"/><circle cx="343.6" cy="467.8" r="1.5"/><circle cx="343.8" cy="467.8" r="1.5"/><circle cx="339.1" cy="468.0" r="1.5"/><circle cx="330.1" cy="473.3" r="1.5"/><circle cx="338.0" cy="473.0" r="1.5"/><circle cx="340.4" cy="473.0" r="1.5"/><circle cx="342.2" cy="473.5" r="1.5"/><circle cx="338.0" cy="473.0" r="1.5"/><circle cx="337.9" cy="473.2" r="1.5"/><circle cx="346.3" cy="473.1" r="1.5"/><circle cx="344.5" cy="473.6" r="1.5"/><circle cx="342.2" cy="473.5" r="1.5"/><circle cx="332.0" cy="473.6" r="1.5"/><circle cx="337.6" cy="473.6" r="1.5"/><circle cx="345.6" cy="473.1" r="1.5"/><circle cx="343.2" cy="473.6" r="1.5"/><circle cx="329.6" cy="473.2" r="1.5"/><circle cx="342.6" cy="473.1" r="1.5"/><circle cx="345.3" cy="473.2" r="1.5"/><circle cx="343.7" cy="473.1" r="1.5"/><circle cx="337.8" cy="473.6" r="1.5"/><circle cx="332.3" cy="473.2" r="1.5"/><circle cx="337.9" cy="473.2" r="1.5"/><circle cx="329.1" cy="473.1" r="1.5"/><circle cx="331.4" cy="473.6" r="1.5"/><circle cx="341.2" cy="473.5" r="1.5"/><circle cx="331.6" cy="473.5" r="1.5"/><circle cx="330.6" cy="473.3" r="1.5"/><circle cx="340.4" cy="473.2" r="1.5"/><circle cx="344.8" cy="473.3" r="1.5"/><circle cx="339.3" cy="473.5" r="1.5"/><circle cx="329.7" cy="478.6" r="1.5"/><circle cx="336.2" cy="478.2" r="1.5"/><circle cx="338.3" cy="478.2" r="1.5"/><circle cx="340.7" cy="478.3" r="1.5"/><circle cx="332.9" cy="478.5" r="1.5"/><circle cx="333.9" cy="478.1" r="1.5"/><circle cx="337.6" cy="478.0" r="1.5"/><circle cx="338.6" cy="478.2" r="1.5"/><circle cx="336.3" cy="478.6" r="1.5"/><circle cx="335.7" cy="478.4" r="1.5"/><circle cx="332.3" cy="478.0" r="1.5"/><circle cx="328.8" cy="478.1" r="1.5"/><circle cx="336.0" cy="478.3" r="1.5"/><circle cx="334.8" cy="478.5" r="1.5"/><circle cx="330.0" cy="478.1" r="1.5"/><circle cx="336.5" cy="478.0" r="1.5"/></g>
<g fill="#008000" fill-opacity="0.47"><circle cx="354.4" cy="453.7" r="1.5"/><circle cx="355.2" cy="453.7" r="1.5"/><circle cx="356.0" cy="453.9" r="1.5"/><circle cx="358.7" cy="453.6" r="1.5"/><circle cx="359.0" cy="453.8" r="1.5"/><circle cx="355.4" cy="454.1" r="1.5"/><circle cx="356.2" cy="453.5" r="1.5"/><circle cx="355.1" cy="453.9" r="1.5"/><circle cx="360.8" cy="454.0" r="1.5"/><circle cx="357.3" cy="453.6" r="1.5"/><circle cx="354.5" cy="453.9" r="1.5"/><circle cx="358.5" cy="453.7" r="1.5"/><circle cx="359.1" cy="453.8" r="1.5"/><circle cx="361.2" cy="454.0" r="1.5"/><circle cx="356.2" cy="454.1" r="1.5"/><circle cx="354.7" cy="453.8" r="1.5"/><circle cx="357.4" cy="453.6" r="1.5"/><circle cx="354.8" cy="454.0" r="1.5"/><circle cx="354.5" cy="453.8" r="1.5"/><circle cx="361.3" cy="453.5" r="1.5"/><circle cx="355.9" cy="453.9" r="1.5"/><circle cx="358.1" cy="453.9" r="1.5"/><circle cx="358.1" cy="455.5" r="1.5"/><circle cx="353.1" cy="455.6" r="1.5"/><circle cx="350.5" cy="456.1" r="1.5"/><circle cx="357.8" cy="456.0" r="1.5"/><circle cx="350.1" cy="456.1" r="1.5"/><circle cx="357.5" cy="455.8" r="1.5"/><circle cx="357.4" cy="455.8" r="1.5"/><circle cx="352.3" cy="455.5" r="1.5"/><circle cx="352.3" cy="455.4" r="1.5"/><circle cx="353.4" cy="456.0" r="1.5"/><circle cx="357.0" cy="456.1" r="1.5"/><circle cx="357.1" cy="455.6" r="1.5"/><circle cx="355.5" cy="455.7" r="1.5"/><circle cx="357.9" cy="455.8" r="1.5"/><circle cx="352.7" cy="455.9" r="1.5"/><circle cx="359.7" cy="455.6" r="1.5"/><circle cx="358.8" cy="455.4" r="1.5"/><circle cx="352.6" cy="455.6" r="1.5"/><circle cx="360.1" cy="460.4" r="1.5"/><circle cx="360.2" cy="460.0" r="1.5"/><circle cx="363.7" cy="460.0" r="1.5"/><circle cx="346.7" cy="460.3" r="1.5"/><circle cx="357.1" cy="460.2" r="1.5"/><circle cx="358.0" cy="460.4" r="1.5"/><circle cx="352.8" cy="460.3" r="1.5"/><circle cx="358.9" cy="460.3" r="1.5"/><circle cx="352.0" cy="460.2" r="1.5"/><circle cx="355.5" cy="460.0" r="1.5"/><circle cx="346.0" cy="460.2" r="1.5"/><circle cx="342.5" cy="460.3" r="1.5"/><circle cx="344.2" cy="459.8" r="1.5"/><circle cx="343.2" cy="460.4" r="1.5"/><circle cx="349.8" cy="459.8" r="1.5"/><circle cx="346.3" cy="459.7" r="1.5"/><circle cx="353.6" cy="460.2" r="1.5"/><circle cx="353.7" cy="460.3" r="1.5"/><circle cx="346.7" cy="460.2" r="1.5"/><circle cx="350.0" cy="460.4" r="1.5"/><circle cx="355.0" cy="460.4" r="1.5"/><circle cx="346.7" cy="460.4" r="1.5"/><circle cx="356.1" cy="460.5" r="1.5"/><circle cx="347.2" cy="459.9" r="1.5"/><circle cx="347.2" cy="459.7" r="1.5"/><circle cx="355.3" cy="460.3" r="1.5"/><circle cx="353.0" cy="460.4" r="1.5"/><circle cx="352.9" cy="459.9" r="1.5"/><circle cx="347.1" cy="459.8" r="1.5"/><circle cx="354.3" cy="459.9" r="1.5"/><circle cx="349.5" cy="460.0" r="1.5"/><circle cx="346.2" cy="459.9" r="1.5"/><circle cx="348.4" cy="463.8" r="1.5"/><circle cx="350.4" cy="463.6" r="1.5"/><circle cx="363.9" cy="463.7" r="1.5"/><circle cx="361.3" cy="463.8" r="1.5"/><circle cx="342.7" cy="463.6" r="1.5"/><circle cx="351.9" cy="463.9" r="1.5"/><circle cx="349.9" cy="463.8" r="1.5"/><circle cx="354.2" cy="463.5" r="1.5"/><circle cx="361.6" cy="463.5" r="1.5"/><circle cx="346.1" cy="463.5" r="1.5"/><circle cx="342.0" cy="463.5" r="1.5"/><circle cx="345.8" cy="464.0" r="1.5"/><circle cx="342.0" cy="463.7" r="1.5"/><circle cx="344.5" cy="463.9" r="1.5"/></g>
<g fill="#0000ff" fill-opacity="0.47"><circle cx="409.6" cy="401.1" r="1.5"/><circle cx="411.9" cy="401.2" r="1.5"/><circle cx="410.7" cy="401.3" r="1.5"/><circle cx="411.0" cy="401.0" r="1.5"/><circle cx="416.8" cy="401.1" r="1.5"/><circle cx="408.6" cy="401.2" r="1.5"/><circle cx="410.5" cy="401.2" r="1.5"/><circle cx="414.5" cy="401.2" r="1.5"/><circle cx="414.1" cy="401.0" r="1.5"/><circle cx="412.6" cy="401.1" r="1.5"/><circle cx="415.8" cy="400.9" r="1.5"/><circle cx="415.8" cy="400.9" r="1.5"/><circle cx="411.3" cy="401.0" r="1.5"/><circle cx="415.9" cy="401.1" r="1.5"/><circle cx="412.5" cy="401.3" r="1.5"/><circle cx="411.5" cy="401.1" r="1.5"/><circle cx="413.5" cy="401.2" r="1.5"/><circle cx="414.9" cy="401.2" r="1.5"/><circle cx="412.3" cy="401.0" r="1.5"/><circle cx="411.0" cy="401.2" r="1.5"/><circle cx="414.3" cy="401.2" r="1.5"/><circle cx="411.1" cy="401.1" r="1.5"/><circle cx="411.3" cy="406.5" r="1.5"/><circle cx="404.8" cy="406.5" r="1.5"/><circle cx="412.4" cy="406.4" r="1.5"/><circle cx="405.4" cy="406.4" r="1.5"/><circle cx="410.6" cy="406.6" r="1.5"/><circle cx="405.0" cy="406.4" r="1.5"/><circle cx="405.5" cy="406.4" r="1.5"/><circle cx="406.9" cy="406.4" r="1.5"/><circle cx="405.9" cy="406.4" r="1.5"/><circle cx="409.2" cy="406.6" r="1.5"/><circle cx="404.7" cy="406.7" r="1.5"/><circle cx="404.7" cy="406.5" r="1.5"/><circle cx="409.2" cy="406.6" r="1.5"/><circle cx="407.9" cy="406.5" r="1.5"/><circle cx="405.2" cy="406.6" r="1.5"/><circle cx="404.7" cy="406.4" r="1.5"/><circle cx="406.2" cy="406.3" r="1.5"/><circle cx="406.2" cy="406.6" r="1.5"/><circle cx="407.7" cy="406.5" r="1.5"/><circle cx="387.5" cy="413.5" r="1.5"/><circle cx="390.4" cy="413.5" r="1.5"/><circle cx="407.1" cy="413.5" r="1.5"/><circle cx="418.6" cy="401.1" r="1.5"/><circle cx="420.6" cy="401.1" r="1.5"/><circle cx="399.5" cy="416.1" r="1.5"/><circle cx="402.5" cy="416.1" r="1.5"/><circle cx="404.8" cy="416.1" r="1.5"/><circle cx="400.2" cy="413.5" r="1.5"/><circle cx="398.8" cy="413.6" r="1.5"/><circle cx="399.6" cy="413.6" r="1.5"/><circle cx="401.0" cy="413.5" r="1.5"/><circle cx="400.1" cy="413.6" r="1.5"/><circle cx="399.6" cy="413.3" r="1.5"/><circle cx="400.5" cy="413.7" r="1.5"/><circle cx="400.6" cy="413.6" r="1.5"/><circle cx="400.9" cy="413.6" r="1.5"/><circle cx="398.3" cy="416.1" r="1.5"/><circle cx="391.7" cy="416.2" r="1.5"/><circle cx="387.3" cy="416.0" r="1.5"/><circle cx="401.2" cy="416.3" r="1.5"/><circle cx="398.1" cy="415.9" r="1.5"/><circle cx="393.9" cy="416.1" r="1.5"/><circle cx="397.9" cy="416.0" r="1.5"/><circle cx="399.0" cy="416.4" r="1.5"/><circle cx="389.0" cy="416.2" r="1.5"/><circle cx="401.1" cy="416.0" r="1.5"/><circle cx="395.2" cy="416.5" r="1.5"/><circle cx="386.1" cy="416.1" r="1.5"/><circle cx="410.0" cy="416.1" r="1.5"/><circle cx="415.5" cy="416.1" r="1.5"/><circle cx="415.5" cy="416.1" r="1.5"/><circle cx="415.6" cy="416.1" r="1.5"/><circle cx="385.8" cy="418.3" r="1.5"/><circle cx="395.5" cy="418.1" r="1.5"/><circle cx="385.1" cy="418.1" r="1.5"/><circle cx="390.5" cy="418.2" r="1.5"/><circle cx="388.6" cy="418.2" r="1.5"/><circle cx="391.1" cy="418.1" r="1.5"/><circle cx="387.8" cy="418.4" r="1.5"/><circle cx="386.2" cy="418.2" r="1.5"/><circle cx="387.6" cy="418.3" r="1.5"/><circle cx="385.5" cy="418.4" r="1.5"/><circle cx="387.3" cy="417.8" r="1.5"/><circle cx="386.7" cy="418.0" r="1.5"/><circle cx="384.6" cy="418.1" r="1.5"/><circle cx="387.9" cy="418.2" r="1.5"/><circle cx="387.3" cy="418.0" r="1.5"/></g>
<g fill="#ff0000" fill-opacity="0.47"><circle cx="490.8" cy="318.5" r="1.5"/><circle cx="501.8" cy="318.4" r="1.5"/><circle cx="490.7" cy="318.5" r="1.5"/><circle cx="493.3" cy="318.3" r="1.5"/><circle cx="489.3" cy="318.5" r="1.5"/><circle cx="499.8" cy="318.5" r="1.5"/><circle cx="494.3" cy="318.4" r="1.5"/><circle cx="492.6" cy="318.6" r="1.5"/><circle cx="493.5" cy="318.5" r="1.5"/><circle cx="496.7" cy="318.5" r="1.5"/><circle cx="494.3" cy="318.3" r="1.5"/><circle cx="494.8" cy="318.3" r="1.5"/><circle cx="496.8" cy="318.3" r="1.5"/><circle cx="497.0" cy="318.3" r="1.5"/><circle cx="493.6" cy="318.3" r="1.5"/><circle cx="494.0" cy="318.3" r="1.5"/><circle cx="491.0" cy="318.5" r="1.5"/><circle cx="474.4" cy="335.4" r="1.5"/><circle cx="474.6" cy="335.5" r="1.5"/><circle cx="475.9" cy="335.6" r="1.5"/><circle cx="478.3" cy="335.4" r="1.5"/><circle cx="481.1" cy="335.6" r="1.5"/><circle cx="472.1" cy="335.6" r="1.5"/><circle cx="480.8" cy="335.6" r="1.5"/><circle cx="478.4" cy="335.6" r="1.5"/><circle cx="479.9" cy="335.3" r="1.5"/><circle cx="478.0" cy="335.7" r="1.5"/><circle cx="480.0" cy="335.4" r="1.5"/><circle cx="490.9" cy="335.5" r="1.5"/><circle cx="492.7" cy="335.5" r="1.5"/><circle cx="491.8" cy="335.5" r="1.5"/><circle cx="496.7" cy="335.5" r="1.5"/><circle cx="456.9" cy="344.2" r="1.5"/><circle cx="476.4" cy="344.2" r="1.5"/><circle cx="487.5" cy="318.4" r="1.5"/><circle cx="489.4" cy="318.4" r="1.5"/><circle cx="502.5" cy="318.4" r="1.5"/><circle cx="448.4" cy="349.4" r="1.5"/><circle cx="452.1" cy="349.6" r="1.5"/><circle cx="455.2" cy="349.4" r="1.5"/><circle cx="470.9" cy="349.6" r="1.5"/><circle cx="450.2" cy="349.7" r="1.5"/><circle cx="462.6" cy="349.6" r="1.5"/><circle cx="464.3" cy="349.7" r="1.5"/><circle cx="467.6" cy="349.6" r="1.5"/><circle cx="451.0" cy="349.6" r="1.5"/><circle cx="460.4" cy="349.6" r="1.5"/><circle cx="461.7" cy="349.7" r="1.5"/><circle cx="462.9" cy="349.4" r="1.5"/><circle cx="459.6" cy="349.3" r="1.5"/><circle cx="462.2" cy="349.2" r="1.5"/><circle cx="462.0" cy="349.3" r="1.5"/><circle cx="462.2" cy="349.5" r="1.5"/><circle cx="462.7" cy="349.7" r="1.5"/><circle cx="457.4" cy="349.7" r="1.5"/><circle cx="462.0" cy="349.5" r="1.5"/><circle cx="464.0" cy="349.7" r="1.5"/><circle cx="461.0" cy="349.5" r="1.5"/><circle cx="466.9" cy="349.2" r="1.5"/><circle cx="463.7" cy="349.6" r="1.5"/><circle cx="480.0" cy="349.5" r="1.5"/><circle cx="481.8" cy="349.5" r="1.5"/><circle cx="496.4" cy="349.5" r="1.5"/><circle cx="448.2" cy="350.5" r="1.5"/><circle cx="452.7" cy="353.6" r="1.5"/><circle cx="450.9" cy="355.5" r="1.5"/><circle cx="463.6" cy="354.5" r="1.5"/><circle cx="450.5" cy="358.2" r="1.5"/><circle cx="469.1" cy="358.2" r="1.5"/><circle cx="440.5" cy="362.4" r="1.5"/><circle cx="456.7" cy="362.4" r="1.5"/><circle cx="465.8" cy="362.4" r="1.5"/><circle cx="444.7" cy="362.4" r="1.5"/><circle cx="448.9" cy="362.6" r="1.5"/><circle cx="446.6" cy="362.6" r="1.5"/><circle cx="447.8" cy="362.4" r="1.5"/><circle cx="450.2" cy="362.2" r="1.5"/><circle cx="449.1" cy="362.5" r="1.5"/><circle cx="446.7" cy="362.5" r="1.5"/></g>
<path d="M313.00 497.40L532.20 283.50" stroke="#202020" stroke-width="0.8" stroke-dasharray="2.4 1.1" fill="none"/>
<rect x="303.0" y="274.4" width="127.8" height="69.8" rx="1" fill="#ebebf2" fill-opacity="0.85" stroke="#cccccc" stroke-opacity="0.8" stroke-width="0.45"/>
<circle cx="311.1" cy="284.7" r="1.4" fill="#008000" fill-opacity="0.4"/>
<text font-size="4.77" x="319.6" y="280.4">Ford PWD - Pick - Total Energy Consumption (Wh)<tspan x="321.0" dy="5.32">R2: 0.2960843926952413</tspan><tspan x="321.0" dy="5.32">RMSE: 0.5589696900799183</tspan></text>
<circle cx="311.1" cy="301.5" r="1.4" fill="#0000ff" fill-opacity="0.4"/>
<text font-size="4.77" x="319.6" y="297.2">Ford PWD - Weld - Total Energy Consumption (Wh)<tspan x="321.0" dy="5.32">R2: 0.6448398808261357</tspan><tspan x="321.0" dy="5.32">RMSE: 0.6994692701541324</tspan></text>
<circle cx="311.1" cy="318.3" r="1.4" fill="#ffff00" fill-opacity="0.4"/>
<text font-size="4.77" x="319.6" y="314.0">Ford PWD - Drop - Total Energy Consumption (Wh)<tspan x="321.0" dy="5.32">R2: 0.5568353259580987</tspan><tspan x="321.0" dy="5.32">RMSE: 0.43175441085989713</tspan></text>
<circle cx="311.1" cy="335.1" r="1.4" fill="#ff0000" fill-opacity="0.4"/>
<text font-size="4.77" x="319.6" y="330.8">Ford PWD - Total - Total Energy Consumption (Wh)<tspan x="321.0" dy="5.32">R2: 0.7737008779097885</tspan><tspan x="321.0" dy="5.32">RMSE: 0.9784330654699194</tspan></text>
</g>
<text transform="translate(278.9 31.9) scale(1.08 1)" font-family="'Liberation Serif', 'DejaVu Serif', serif" font-size="13.3" style="fill:#111;stroke:#111;stroke-width:0.18px">a)</text>
<text transform="translate(5.2 287.6) scale(1.05 1)" font-family="'Liberation Serif', 'DejaVu Serif', serif" font-size="13.3" style="fill:#111;stroke:#111;stroke-width:0.18px">b)</text>
<text transform="translate(281.6 287.3) scale(1.0 1)" font-family="'Liberation Serif', 'DejaVu Serif', serif" font-size="13.3" style="fill:#111;stroke:#111;stroke-width:0.18px">c)</text>
</svg></div></div>
</body></html>
